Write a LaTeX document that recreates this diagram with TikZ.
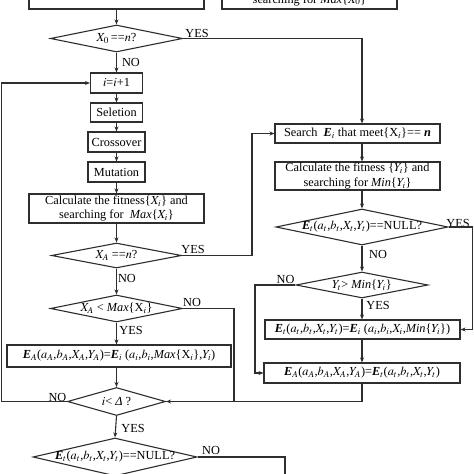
\documentclass[tikz,border=0pt]{standalone}
\usepackage{mathptmx}
\usepackage{fontspec}
\setmainfont{Liberation Serif}
\usetikzlibrary{shapes.geometric,arrows.meta}
\definecolor{lc}{HTML}{2E2E2E}
\newcommand{\bE}{\textbf{\textit{E}}}
\begin{document}
\begin{tikzpicture}[x=1pt,y=-1pt,
  every node/.style={font=\fontsize{12.3}{14.5}\selectfont, text=black},
  sz/.style 2 args={minimum width=#1pt,minimum height=#2pt},
  box/.style={draw=lc, line width=1.1pt, rectangle, inner sep=0pt, align=center},
  dia/.style={draw=lc, line width=1.1pt, diamond, inner sep=0pt},
  conn/.style={draw=lc, line width=1.1pt},
  arr/.style={conn, -{Stealth[length=5pt,width=4pt]}},
  lbl/.style={inner sep=0pt}]
\fill[white] (0,0) rectangle (474,474);
\useasboundingbox (0,0) rectangle (474,474);

% left column
\node[box,sz={175}{29}] (top1) at (116.5,-5.5) {};
\node[box,sz={175}{29}] (top2) at (309.5,-5.5) {};
\node[lbl] (top2t) at (309.5,0) {searching for \textit{Max}\{$X_0$\}};
\node[dia,sz={132}{27},label={center:$X_0$\,==$n$?}] (d0) at (116.5,38.5) {};
\node[box,sz={52}{20}] (inc) at (116.5,83) {$i$=$i$+1};
\node[box,sz={52}{19}] (sel) at (116.5,112.5) {Seletion};
\node[box,sz={57}{20}] (cro) at (116.5,142) {Crossover};
\node[box,sz={57}{20}] (mut) at (116.5,172) {Mutation};
\node[box,sz={175}{29}] (fitX) at (116.5,208.5) {Calculate the fitness\{$X_i$\} and\\searching for \ \textit{Max}\{$X_i$\}};
\node[dia,sz={130}{25},label={center:$X_A$ ==$n$?}] (dA) at (116.5,255.5) {};
\node[dia,sz={132}{27},label={center:$X_A$ < \textit{Max}\{X$_i$\}}] (dAm) at (116.5,308.5) {};
\node[box,sz={224}{22}] (eA) at (119,356) {\bE$_A$($a_A$,$b_A$,$X_A$,$Y_A$)=\bE$_i$ ($a_i$,$b_i$,\textit{Max}\{X$_i$\},$Y_i$)};
\node[dia,sz={98}{28},label={center:$i$< \textit{Δ} ?}] (dI) at (116.5,401.5) {};
\node[dia,sz={164}{38},label={center:\bE$_t$($a_t$,$b_t$,$X_t$,$Y_t$)==NULL?}] (dN2) at (115,457) {};

% right column
\node[box,sz={165}{19}] (srch) at (357.5,133.5) {Search \ \bE$_i$ that meet\{X$_i$\}== \textbf{\textit{n}}};
\node[box,sz={165}{28}] (fitY) at (357.5,176) {Calculate the fitness \{$Y_i$\} and\\searching for \textit{Min}\{$Y_i$\}};
\node[dia,sz={172}{36},label={center:\bE$_t$($a_t$,$b_t$,$X_t$,$Y_t$)==NULL?}] (dN1) at (362,227) {};
\node[dia,sz={132}{26},label={center:$Y_t$> \textit{Min}\{$Y_i$\}}] (dY) at (362,285) {};
\node[box,sz={195}{19}] (eT) at (362.5,329.5) {\bE$_t$($a_t$,$b_t$,$X_t$,$Y_t$)=\bE$_i$ ($a_i$,$b_i$,$X_i$,\textit{Min}\{$Y_i$\})};
\node[box,sz={196}{20}] (eA2) at (362,373) {\bE$_A$($a_A$,$b_A$,$X_A$,$Y_A$)=\bE$_t$($a_t$,$b_t$,$X_t$,$Y_t$)};

% labels
\node[lbl] (l1) at (197,33) {YES};
\node[lbl] (l2) at (131,62) {NO};
\node[lbl] (l3) at (193,249) {YES};
\node[lbl] (l4) at (127,278) {NO};
\node[lbl] (l5) at (192,302) {NO};
\node[lbl] (l6) at (131,330) {YES};
\node[lbl] (l7) at (57.5,397) {NO};
\node[lbl] (l8) at (133,428) {YES};
\node[lbl] (l9) at (211,450) {NO};
\node[lbl] (l10) at (458,223) {YES};
\node[lbl] (l11) at (378,254) {NO};
\node[lbl] (l12) at (285.5,279) {NO};
\node[lbl] (l13) at (378,305) {YES};

% coordinates
\coordinate (cx) at (362,0);
\coordinate (cl) at (1.2,0);
\coordinate (cr) at (472.5,0);
\coordinate (cm) at (252,0);
\coordinate (cv) at (234,0);
\coordinate (cy) at (255,0);
\coordinate (cb) at (285,490);

% left connectors
\draw[arr] (top1.south) -- (d0.north);
\draw[arr] (d0.south) -- (inc.north);
\draw[arr] (inc.south) -- (sel.north);
\draw[arr] (sel.south) -- (cro.north);
\draw[arr] (cro.south) -- (mut.north);
\draw[arr] (mut.south) -- (fitX.north);
\draw[arr] (fitX.south) -- (dA.north);
\draw[arr] (dA.south) -- (dAm.north);
\draw[arr] (dAm.south) -- (dAm.south |- eA.north);
\draw[arr] (dI.north |- eA.south) -- (dI.north);
\draw[arr] (dI.south) -- (dN2.north);
\draw[arr] (dI.west) -- (dI.west -| cl) -- (inc.west -| cl) -- (inc.west);
\draw[arr] (dAm.east) -- (dAm.east -| cv) -- (dI.east -| cv) -- (dI.east);
\draw[conn] (dN2.east) -- (dN2.east -| cb) -- (cb);

% cross connectors
\draw[arr] (d0.east) -- (d0.east -| cx) -- (srch.north -| cx);
\draw[arr] (dA.east) -- (dA.east -| cm) -- (srch.west -| cm) -- (srch.west);

% right connectors
\draw[arr] (srch.south -| cx) -- (fitY.north -| cx);
\draw[arr] (fitY.south -| cx) -- (dN1.north);
\draw[arr] (dN1.south) -- (dY.north);
\draw[arr] (dY.south) -- (eT.north -| cx);
\draw[arr] (eT.south -| cx) -- (eA2.north -| cx);
\draw[arr] (dN1.east) -- (dN1.east -| cr) -- (eT.east -| cr) -- (eT.east);
\draw[arr] (dY.west) -- (dY.west -| cy) -- (eA2.west -| cy) -- (eA2.west);
\draw[conn] (eA2.south -| cx) -- (dI.east -| cx) -- (dI.east -| cv);
\end{tikzpicture}
\end{document}
